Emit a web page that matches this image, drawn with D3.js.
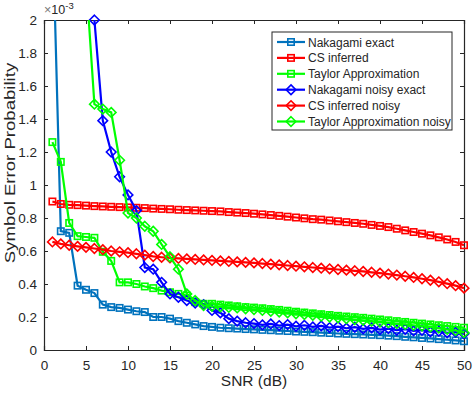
<!DOCTYPE html>
<html lang="en">
<head>
<meta charset="UTF-8"/>
<title>Symbol Error Probability vs SNR</title>
<script src="https://d3js.org/d3.v7.min.js"></script>
<style>
  body { margin: 0; background: #fff; }
  text { font-family: "Liberation Sans", Arial, Helvetica, sans-serif; fill: #262626; }
</style>
</head>
<body>
<script>
    // SNR values (dB)
    var snr = [1, 2, 3, 4, 5, 6, 7, 8, 9, 10, 11, 12, 13, 14, 15, 16, 17, 18, 19, 20,
               21, 22, 23, 24, 25, 26, 27, 28, 29, 30, 31, 32, 33, 34, 35, 36, 37, 38, 39, 40,
               41, 42, 43, 44, 45, 46, 47, 48, 49, 50];

    // series values, in units of 1e-3
    var nakExact = [2.60, 0.72, 0.71, 0.39, 0.365, 0.345, 0.275, 0.26, 0.255, 0.245,
                    0.235, 0.23, 0.20, 0.20, 0.19, 0.175, 0.165, 0.155, 0.145, 0.14,
                    0.135, 0.132, 0.13, 0.127, 0.125, 0.122, 0.12, 0.117, 0.115, 0.112,
                    0.11, 0.108, 0.105, 0.103, 0.10, 0.098, 0.096, 0.094, 0.092, 0.09,
                    0.087, 0.084, 0.08, 0.077, 0.073, 0.07, 0.066, 0.062, 0.058, 0.053];
    var csInferred = [0.90, 0.885, 0.88, 0.878, 0.875, 0.872, 0.87, 0.868, 0.866, 0.864,
                      0.862, 0.86, 0.857, 0.855, 0.853, 0.85, 0.848, 0.846, 0.844, 0.842,
                      0.84, 0.836, 0.833, 0.83, 0.826, 0.822, 0.818, 0.813, 0.808, 0.803,
                      0.798, 0.793, 0.79, 0.785, 0.78, 0.775, 0.77, 0.765, 0.758, 0.752,
                      0.745, 0.735, 0.725, 0.715, 0.705, 0.695, 0.683, 0.67, 0.655, 0.635];
    var taylor = [1.26, 1.14, 0.77, 0.69, 0.685, 0.68, 0.595, 0.54, 0.41, 0.41,
                  0.40, 0.385, 0.375, 0.36, 0.35, 0.34, 0.33, 0.29, 0.28, 0.28,
                  0.275, 0.27, 0.265, 0.26, 0.257, 0.253, 0.248, 0.243, 0.238, 0.232,
                  0.227, 0.222, 0.217, 0.212, 0.207, 0.203, 0.199, 0.195, 0.19, 0.185,
                  0.18, 0.175, 0.17, 0.165, 0.16, 0.155, 0.15, 0.145, 0.14, 0.135];
    var nakNoisy = [9.0, 7.0, 5.0, 3.5, 2.6, 2.0, 1.39, 1.20, 1.05, 0.94,
                    0.845, 0.50, 0.49, 0.41, 0.34, 0.32, 0.30, 0.285, 0.275, 0.24,
                    0.225, 0.19, 0.175, 0.165, 0.16, 0.152, 0.158, 0.148, 0.154, 0.144,
                    0.15, 0.14, 0.146, 0.136, 0.142, 0.132, 0.138, 0.128, 0.134, 0.124,
                    0.13, 0.12, 0.126, 0.116, 0.12, 0.11, 0.114, 0.104, 0.108, 0.098];
    var csNoisy = [0.655, 0.643, 0.635, 0.628, 0.622, 0.615, 0.608, 0.60, 0.595, 0.59,
                   0.583, 0.575, 0.567, 0.562, 0.558, 0.555, 0.552, 0.549, 0.546, 0.543,
                   0.54, 0.537, 0.534, 0.531, 0.528, 0.524, 0.52, 0.516, 0.512, 0.508,
                   0.504, 0.50, 0.496, 0.492, 0.488, 0.484, 0.48, 0.476, 0.471, 0.466,
                   0.46, 0.454, 0.447, 0.44, 0.432, 0.423, 0.413, 0.402, 0.39, 0.375];
    var taylorNoisy = [4.0, 3.5, 3.0, 2.6, 2.25, 1.49, 1.46, 1.44, 1.15, 0.83,
                       0.80, 0.75, 0.72, 0.64, 0.565, 0.49, 0.34, 0.30, 0.27, 0.265,
                       0.262, 0.258, 0.255, 0.25, 0.245, 0.24, 0.235, 0.23, 0.225, 0.22,
                       0.215, 0.21, 0.205, 0.2, 0.195, 0.19, 0.185, 0.18, 0.175, 0.17,
                       0.165, 0.16, 0.155, 0.15, 0.145, 0.14, 0.133, 0.125, 0.118, 0.105];

    var xTicks = [0, 5, 10, 15, 20, 25, 30, 35, 40, 45, 50];
    var yTicks = [0, 0.2, 0.4, 0.6, 0.8, 1, 1.2, 1.4, 1.6, 1.8, 2];

    var series = [
        { name: "Nakagami exact", values: nakExact, color: "#0072BD", marker: "square" },
        { name: "CS inferred", values: csInferred, color: "#FF0000", marker: "square" },
        { name: "Taylor Approximation", values: taylor, color: "#00FF00", marker: "square" },
        { name: "Nakagami noisy exact", values: nakNoisy, color: "#0000FF", marker: "diamond" },
        { name: "CS inferred noisy", values: csNoisy, color: "#FF0000", marker: "diamond" },
        { name: "Taylor Approximation noisy", values: taylorNoisy, color: "#00FF00", marker: "diamond" }
    ];

    // canvas
    var W = 474, H = 395;
    var margin = { top: 20, right: 10, bottom: 45, left: 44 };
    var w = W - margin.left - margin.right;
    var h = H - margin.top - margin.bottom;

    var xScale = d3.scaleLinear().domain([0, 50]).range([0, w]);
    var yScale = d3.scaleLinear().domain([0, 2]).range([h, 0]);

    var svg = d3.select("body")
                .append("svg")
                .attr("width", W)
                .attr("height", H)
                .append("g")
                .attr("transform", "translate(" + margin.left + "," + margin.top + ")");

    svg.append("clipPath")
       .attr("id", "plotclip")
       .append("rect")
       .attr("width", w)
       .attr("height", h);

    // axes (MATLAB style, ticks inward, box on)
    var axisColor = "#262626";
    var xAxis = d3.axisBottom(xScale).tickValues(xTicks).tickSize(-4).tickPadding(10)
                  .tickFormat(d3.format("d"));
    var yAxis = d3.axisLeft(yScale).tickValues(yTicks).tickSize(-4).tickPadding(7)
                  .tickFormat(function(d) { return d3.format("~g")(d); });

    var gx = svg.append("g").attr("transform", "translate(0," + h + ")").call(xAxis);
    var gy = svg.append("g").call(yAxis);
    var gxt = svg.append("g").call(d3.axisTop(xScale).tickValues(xTicks).tickSize(-4).tickFormat(""));
    var gyr = svg.append("g").attr("transform", "translate(" + w + ",0)")
                 .call(d3.axisRight(yScale).tickValues(yTicks).tickSize(-4).tickFormat(""));

    [gx, gy, gxt, gyr].forEach(function(g) {
        g.selectAll("path").attr("stroke", axisColor).attr("stroke-width", 1.2);
        g.selectAll("line").attr("stroke", axisColor).attr("stroke-width", 1);
        g.selectAll("text").style("font-size", "13.5px").attr("fill", axisColor)
         .style("font-family", "'Liberation Sans', Arial, sans-serif");
    });

    // exponent label
    var expo = svg.append("text").attr("x", 0).attr("y", -6).style("font-size", "12.5px");
    expo.append("tspan").text("\u00d7").attr("fill", "#777");
    expo.append("tspan").text("10");
    expo.append("tspan").text("-3").attr("dy", -5).style("font-size", "9.5px");

    // axis labels
    svg.append("text")
       .attr("x", w / 2)
       .attr("y", h + 36)
       .attr("text-anchor", "middle")
       .style("font-size", "15.5px")
       .text("SNR (dB)");

    svg.append("text")
       .attr("transform", "translate(" + (-29) + "," + (h / 2 - 22) + ") rotate(-90) scale(1.2,1)")
       .attr("text-anchor", "middle")
       .style("font-size", "15.5px")
       .text("Symbol Error Probability");

    // lines
    var line = d3.line()
                 .x(function(d, i) { return xScale(snr[i]); })
                 .y(function(d) { return yScale(d); });

    function drawMarker(g, kind, color) {
        if (kind === "square") {
            g.append("rect")
             .attr("x", -3.2).attr("y", -3.2).attr("width", 6.4).attr("height", 6.4)
             .attr("fill", "none").attr("stroke", color).attr("stroke-width", 1.6);
        } else {
            g.append("path")
             .attr("d", "M0,-4.8L4.8,0L0,4.8L-4.8,0Z")
             .attr("fill", "none").attr("stroke", color).attr("stroke-width", 1.6);
        }
    }

    series.forEach(function(s) {
        var g = svg.append("g");
        g.append("path")
         .datum(s.values)
         .attr("clip-path", "url(#plotclip)")
         .attr("d", line)
         .attr("fill", "none")
         .attr("stroke", s.color)
         .attr("stroke-width", 2.2);

        s.values.forEach(function(v, i) {
            if (v > 2) return;
            var m = g.append("g")
                     .attr("transform", "translate(" + xScale(snr[i]) + "," + yScale(v) + ")");
            drawMarker(m, s.marker, s.color);
        });
    });

    // legend
    var lx = 272 - margin.left, ly = 32 - margin.top;
    var legend = svg.append("g").attr("transform", "translate(" + lx + "," + ly + ")");
    legend.append("rect")
          .attr("width", 180)
          .attr("height", 98)
          .attr("fill", "#fff")
          .attr("stroke", axisColor)
          .attr("stroke-width", 1);

    series.forEach(function(s, i) {
        var yy = 10 + i * 15.9;
        legend.append("line")
              .attr("x1", 5).attr("x2", 33)
              .attr("y1", yy).attr("y2", yy)
              .attr("stroke", s.color)
              .attr("stroke-width", 2.2);
        var m = legend.append("g").attr("transform", "translate(19," + yy + ")");
        drawMarker(m, s.marker, s.color);
        legend.append("text")
              .attr("x", 36)
              .attr("y", yy + 4.5)
              .style("font-size", "12px")
              .text(s.name);
    });
</script>
</body>
</html>
